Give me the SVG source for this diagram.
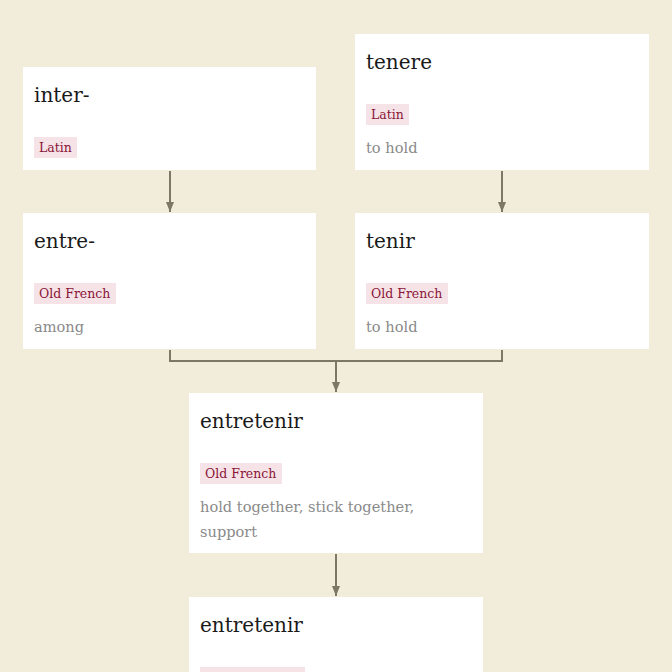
<svg xmlns="http://www.w3.org/2000/svg" width="672" height="672" viewBox="0 0 672 672">
<style>
.bg{fill:#f2ecdb}
.card{fill:#ffffff}
.title{font-family:"DejaVu Serif","Liberation Serif",serif;font-size:20px;fill:#1a1a1a}
.tag{fill:#f6e3e7}
.tagt{font-family:"DejaVu Serif","Liberation Serif",serif;font-size:12.5px;fill:#8a1538}
.gloss{font-family:"DejaVu Serif","Liberation Serif",serif;font-size:14.6px;fill:#8a8a8a}
.edge{fill:none;stroke:#7d7765;stroke-width:2}
</style>
<defs>
<marker id="arr" viewBox="0 0 10 10" refX="10" refY="5" markerWidth="10" markerHeight="10" markerUnits="userSpaceOnUse" orient="auto">
<path d="M0,1 L10,5 L0,9 Z" fill="#7d7765"/>
</marker>
</defs>
<rect class="bg" x="0" y="0" width="672" height="672"/>
<g id="connectors">
<path class="edge" d="M170,171 V212" marker-end="url(#arr)"/>
<path class="edge" d="M502,171 V212" marker-end="url(#arr)"/>
<path class="edge" d="M170,350 V361 H502 V350"/>
<path class="edge" d="M336,361 V392" marker-end="url(#arr)"/>
<path class="edge" d="M336,554 V596" marker-end="url(#arr)"/>
</g>
<g id="node-inter">
<rect class="card" x="23" y="67" width="293" height="103"/>
<text class="title" x="34" y="102">inter-</text>
<rect class="tag" x="34" y="137" width="43" height="21"/>
<text class="tagt" x="39" y="152">Latin</text>
</g>
<g id="node-tenere">
<rect class="card" x="355" y="34" width="294" height="136"/>
<text class="title" x="366" y="69">tenere</text>
<rect class="tag" x="366" y="104" width="43" height="21"/>
<text class="tagt" x="371" y="119">Latin</text>
<text class="gloss" x="366" y="153">to hold</text>
</g>
<g id="node-entre">
<rect class="card" x="23" y="213" width="293" height="136"/>
<text class="title" x="34" y="248">entre-</text>
<rect class="tag" x="34" y="283" width="82" height="21"/>
<text class="tagt" x="39" y="298">Old French</text>
<text class="gloss" x="34" y="332">among</text>
</g>
<g id="node-tenir">
<rect class="card" x="355" y="213" width="294" height="136"/>
<text class="title" x="366" y="248">tenir</text>
<rect class="tag" x="366" y="283" width="82" height="21"/>
<text class="tagt" x="371" y="298">Old French</text>
<text class="gloss" x="366" y="332">to hold</text>
</g>
<g id="node-entretenir1">
<rect class="card" x="189" y="393" width="294" height="160"/>
<text class="title" x="200" y="428">entretenir</text>
<rect class="tag" x="200" y="463" width="82" height="21"/>
<text class="tagt" x="205" y="478">Old French</text>
<text class="gloss" x="200" y="512">hold together, stick together,</text>
<text class="gloss" x="200" y="537">support</text>
</g>
<g id="node-entretenir2">
<rect class="card" x="189" y="597" width="294" height="90"/>
<text class="title" x="200" y="632">entretenir</text>
<rect class="tag" x="200" y="667" width="105" height="21"/>
</g>
</svg>
